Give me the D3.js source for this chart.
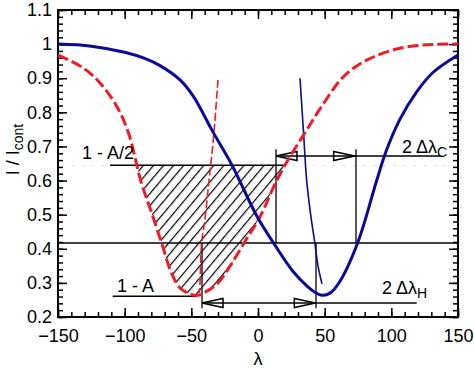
<!DOCTYPE html>
<html>
<head>
<meta charset="utf-8">
<script src="https://cdn.jsdelivr.net/npm/d3@7"></script>
<style>
  html, body { margin: 0; padding: 0; background: #fff; }
  svg text { font-family: "Liberation Sans", Arial, Helvetica, sans-serif; fill: #000; }
</style>
</head>
<body>
<svg id="chart" width="474" height="372"></svg>
<script>
// ---------- data ----------
const xMajorTicks = [-150, -100, -50, 0, 50, 100, 150];
const yMajorTicks = [0.2, 0.3, 0.4, 0.5, 0.6, 0.7, 0.8, 0.9, 1.0, 1.1];
const yTickLabels = ["0.2", "0.3", "0.4", "0.5", "0.6", "0.7", "0.8", "0.9", "1", "1.1"];

// blue solid profile (lambda, I/Icont)
const blueLambda = [-150, -125, -100, -85, -73.5, -58.5, -48.7, -33.7, -19.5, -1, 12, 26, 37, 43, 48, 54, 61.5, 75, 89, 96, 106.5, 119, 131, 150];
const blueI      = [1.0, 0.994, 0.976, 0.958, 0.937, 0.895, 0.848, 0.742, 0.645, 0.497, 0.415, 0.335, 0.29, 0.272, 0.264, 0.27, 0.305, 0.42, 0.60, 0.685, 0.78, 0.86, 0.916, 0.968];

// red dashed profile
const redLambda = [-150, -131, -118.5, -106, -97, -88, -80, -72, -65, -58.5, -51, -46, -40, -30, -20, -10, 1.5, 14, 24, 36.5, 46.5, 64, 81.5, 106.5, 131, 150];
const redI      = [0.968, 0.93, 0.886, 0.818, 0.738, 0.60, 0.508, 0.413, 0.33, 0.285, 0.268, 0.263, 0.272, 0.30, 0.355, 0.42, 0.494, 0.60, 0.67, 0.748, 0.81, 0.904, 0.953, 0.988, 0.999, 1.0];

// bisectors
const redBisLambda = [-30, -33.5, -36.75, -40, -42.3, -43.5, -44];
const redBisI      = [0.895, 0.72, 0.60, 0.48, 0.417, 0.30, 0.27];
const blueBisLambda = [31.5, 34, 36.5, 39.5, 42.5, 45, 48];
const blueBisI      = [0.90, 0.75, 0.60, 0.50, 0.42, 0.35, 0.297];

// reference levels
const levelLine = 0.417;            // full-width horizontal
const halfDepthLevel = 0.645;       // 1 - A/2
const depthLevel = 0.261;           // 1 - A
const halfDepthFrom = -111, halfDepthTo = 20;
const depthFrom = -109, depthTo = -46;

// vertical markers: [lambda, I0, I1]
const vMarkers = [[13.5, 0.417, 0.692], [73.5, 0.417, 0.692], [-42, 0.226, 0.417], [43.5, 0.226, 0.417]];

// arrows: level, line from/to, head tips (lambda, direction)
const arrowC = { I: 0.672, from: 13.5, to: 136.5, heads: [[13.5, -1], [72.5, 1]] };
const arrowH = { I: 0.241, from: -42, to: 119, heads: [[-42, -1], [43, 1]] };

// annotation labels: [lambda, I]
const labelHalf = { l: -132, I: 0.663 };
const labelDepth = { l: -105.75, I: 0.273 };
const labelC = { l: 108, I: 0.681 };
const labelH = { l: 93, I: 0.267 };

// ---------- layout ----------
const svg = d3.select("#chart");
const m = { left: 58, right: 16, top: 10, bottom: 55 };
const W = 474, H = 372;
const x = d3.scaleLinear().domain([-150, 150]).range([m.left, W - m.right]);
const y = d3.scaleLinear().domain([0.2, 1.1]).range([H - m.bottom, m.top]);
const font = 18;

// hatch pattern
const defs = svg.append("defs");
const pat = defs.append("pattern").attr("id", "hatch")
  .attr("patternUnits", "userSpaceOnUse").attr("width", 7.7).attr("height", 20)
  .attr("patternTransform", "rotate(40)");
pat.append("line").attr("x1", 0.6).attr("y1", -2).attr("x2", 0.6).attr("y2", 22)
  .attr("stroke", "#000").attr("stroke-width", 1.2);
defs.append("clipPath").attr("id", "belowHalf").append("rect")
  .attr("x", m.left).attr("width", W - m.left - m.right)
  .attr("y", y(halfDepthLevel)).attr("height", y(0.2) - y(halfDepthLevel));

const redPts = redLambda.map((l, i) => [l, redI[i]]);
const bluePts = blueLambda.map((l, i) => [l, blueI[i]]);
const mainCurve = d3.curveCatmullRom.alpha(0.5);

svg.append("path").datum(redPts)
  .attr("clip-path", "url(#belowHalf)")
  .attr("fill", "url(#hatch)")
  .attr("d", d3.area().x(d => x(d[0])).y0(y(halfDepthLevel)).y1(d => y(d[1])).curve(mainCurve));

// ---------- axes ----------
const xMinor = d3.range(-150, 151, 10);
const yMinor = d3.range(0, 46).map(i => +(0.2 + i * 0.02).toFixed(2));

function styleAxis(g) {
  g.select(".domain").remove();
  g.selectAll("line").attr("stroke", "#000").attr("stroke-width", 1.5);
  g.selectAll("text").style("font-size", font + "px").attr("fill", "#000")
    .style("font-family", '"Liberation Sans", Arial, sans-serif');
}
const fmtX = d => (d < 0 ? "\u2212" + Math.abs(d) : String(d));

// bottom
svg.append("g").attr("transform", `translate(0,${y(0.2)})`)
  .call(d3.axisBottom(x).tickValues(xMinor).tickSize(-5).tickFormat("")).call(styleAxis);
svg.append("g").attr("transform", `translate(0,${y(0.2)})`)
  .call(d3.axisBottom(x).tickValues(xMajorTicks).tickSize(-9).tickPadding(12).tickFormat(fmtX)).call(styleAxis);
// top
svg.append("g").attr("transform", `translate(0,${y(1.1)})`)
  .call(d3.axisTop(x).tickValues(xMinor).tickSize(-5).tickFormat("")).call(styleAxis);
svg.append("g").attr("transform", `translate(0,${y(1.1)})`)
  .call(d3.axisTop(x).tickValues(xMajorTicks).tickSize(-9).tickFormat("")).call(styleAxis);
// left
svg.append("g").attr("transform", `translate(${x(-150)},0)`)
  .call(d3.axisLeft(y).tickValues(yMinor).tickSize(-5).tickFormat("")).call(styleAxis);
svg.append("g").attr("transform", `translate(${x(-150)},0)`)
  .call(d3.axisLeft(y).tickValues(yMajorTicks).tickSize(-9).tickPadding(6)
    .tickFormat((d, i) => yTickLabels[i])).call(styleAxis);
// right
svg.append("g").attr("transform", `translate(${x(150)},0)`)
  .call(d3.axisRight(y).tickValues(yMinor).tickSize(-5).tickFormat("")).call(styleAxis);
svg.append("g").attr("transform", `translate(${x(150)},0)`)
  .call(d3.axisRight(y).tickValues(yMajorTicks).tickSize(-9).tickFormat("")).call(styleAxis);

// frame
svg.append("rect").attr("x", x(-150)).attr("y", y(1.1))
  .attr("width", x(150) - x(-150)).attr("height", y(0.2) - y(1.1))
  .attr("fill", "none").attr("stroke", "#000").attr("stroke-width", 2);

// ---------- reference lines ----------
const lineG = svg.append("g").attr("stroke", "#000").attr("stroke-width", 1.3);
lineG.append("line").attr("x1", x(-150)).attr("x2", x(150)).attr("y1", y(levelLine)).attr("y2", y(levelLine)).attr("stroke-width", 1.5);
lineG.append("line").attr("x1", x(halfDepthFrom)).attr("x2", x(halfDepthTo)).attr("y1", y(halfDepthLevel)).attr("y2", y(halfDepthLevel)).attr("stroke-width", 1.5);
lineG.append("line").attr("x1", x(depthFrom)).attr("x2", x(depthTo)).attr("y1", y(depthLevel)).attr("y2", y(depthLevel)).attr("stroke-width", 1.5);
lineG.selectAll(".vm").data(vMarkers).enter().append("line")
  .attr("x1", d => x(d[0])).attr("x2", d => x(d[0]))
  .attr("y1", d => y(d[1])).attr("y2", d => y(d[2]));

function drawArrow(a) {
  lineG.append("line").attr("x1", x(a.from)).attr("x2", x(a.to)).attr("y1", y(a.I)).attr("y2", y(a.I)).attr("stroke-width", 1.5);
  a.heads.forEach(([l, dir]) => {
    const tx = x(l), ty = y(a.I), len = 21, hw = 4.5;
    svg.append("path")
      .attr("d", `M${tx},${ty} L${tx - dir * len},${ty - hw} L${tx - dir * len},${ty + hw} Z`)
      .attr("fill", "none").attr("stroke", "#000").attr("stroke-width", 1.5);
  });
}
drawArrow(arrowC);
drawArrow(arrowH);

// ---------- curves ----------
const lineGen = d3.line().x(d => x(d[0])).y(d => y(d[1])).curve(mainCurve);
const bisGen = d3.line().x(d => x(d[0])).y(d => y(d[1])).curve(d3.curveCatmullRom);

svg.append("path").datum(redBisLambda.map((l, i) => [l, redBisI[i]]))
  .attr("fill", "none").attr("stroke", "#ee1c24").attr("stroke-width", 1.6)
  .attr("stroke-dasharray", "8,3").attr("d", bisGen);
svg.append("path").datum(blueBisLambda.map((l, i) => [l, blueBisI[i]]))
  .attr("fill", "none").attr("stroke", "#0a0a9a").attr("stroke-width", 1.6).attr("d", bisGen);

svg.append("path").datum(redPts)
  .attr("fill", "none").attr("stroke", "#ee1c24").attr("stroke-width", 3)
  .attr("stroke-dasharray", "11,4").attr("d", lineGen);
svg.append("path").datum(bluePts)
  .attr("fill", "none").attr("stroke", "#0a0a9a").attr("stroke-width", 3).attr("d", lineGen);

// ---------- annotation labels ----------
function label(pos, main, sub) {
  const t = svg.append("text").attr("x", x(pos.l)).attr("y", y(pos.I)).style("font-size", font + "px");
  t.append("tspan").text(main);
  if (sub) t.append("tspan").attr("dy", 4).style("font-size", "14px").text(sub);
}
label(labelHalf, "1 - A/2");
label(labelDepth, "1 - A");
label(labelC, "2 \u0394\u03BB", "C");
label(labelH, "2 \u0394\u03BB", "H");

// axis titles
svg.append("text").attr("x", x(0)).attr("y", 365).attr("text-anchor", "middle")
  .style("font-size", font + "px").text("\u03BB");
const yt = svg.append("text").attr("transform", `translate(19,${(y(0.2) + y(1.1)) / 2 - 14}) rotate(-90)`)
  .attr("text-anchor", "middle").style("font-size", font + "px");
yt.append("tspan").text("I / I");
yt.append("tspan").attr("dy", 4).style("font-size", "14px").text("cont");
</script>
</body>
</html>
